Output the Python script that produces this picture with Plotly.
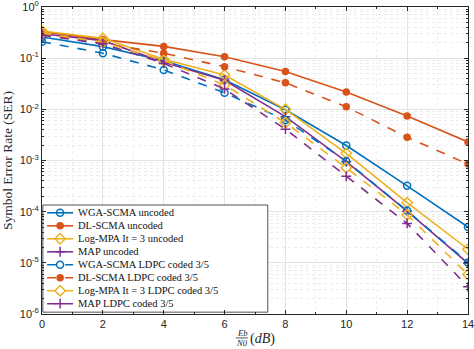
import plotly.graph_objects as go

# Eb/N0 grid in dB
snr_db = [0, 2, 4, 6, 8, 10, 12, 14]

# Symbol error rate curves
wga_uncoded = [0.26, 0.168, 0.089, 0.038, 0.0098, 0.00196, 0.00032, 5.0e-5]
dl_uncoded = [0.33, 0.23, 0.17, 0.107, 0.055, 0.0219, 0.0074, 0.0023]
logmpa_uncoded = [0.34, 0.245, 0.095, 0.047, 0.0100, 0.00138, 0.00015, 1.85e-5]
map_uncoded = [0.30, 0.22, 0.083, 0.037, 0.0072, 0.00095, 0.000102, 9.8e-6]
wga_ldpc = [0.21, 0.125, 0.059, 0.021, 0.0062, 0.00097, 0.000104, 1.02e-5]
dl_ldpc = [0.29, 0.195, 0.125, 0.068, 0.033, 0.0112, 0.00285, 0.00085]
logmpa_ldpc = [0.31, 0.205, 0.09, 0.030, 0.0055, 0.00072, 8.7e-5, 5.9e-6]
map_ldpc = [0.28, 0.19, 0.079, 0.025, 0.0041, 0.00049, 5.9e-5, 3.4e-6]

series_names = [
    "WGA-SCMA uncoded",
    "DL-SCMA uncoded",
    "Log-MPA It = 3 uncoded",
    "MAP uncoded",
    "WGA-SCMA LDPC coded 3/5",
    "DL-SCMA LDPC coded 3/5",
    "Log-MPA It = 3 LDPC coded 3/5",
    "MAP LDPC coded 3/5",
]
series_values = [wga_uncoded, dl_uncoded, logmpa_uncoded, map_uncoded,
                 wga_ldpc, dl_ldpc, logmpa_ldpc, map_ldpc]

x_ticks = [0, 2, 4, 6, 8, 10, 12, 14]
y_tickvals = [1, 1e-1, 1e-2, 1e-3, 1e-4, 1e-5, 1e-6]
y_ticktext = ["10<sup>0</sup>", "10<sup>-1</sup>", "10<sup>-2</sup>", "10<sup>-3</sup>",
              "10<sup>-4</sup>", "10<sup>-5</sup>", "10<sup>-6</sup>"]

colors = ["#0072BD", "#D95319", "#EDB120", "#7E2F8E"]
symbols = ["circle-open", "circle", "diamond-open", "cross-thin-open"]
sizes = [7, 6, 8, 7]
serif = "Liberation Serif, DejaVu Serif, serif"
ink = "#262626"

fig = go.Figure()
for i, (name, vals) in enumerate(zip(series_names, series_values)):
    k = i % 4
    fig.add_trace(go.Scatter(
        x=snr_db, y=vals, name=name, mode="lines+markers", showlegend=False,
        line=dict(color=colors[k], width=1.6, dash="dash" if i >= 4 else "solid"),
        marker=dict(symbol=symbols[k], size=sizes[k], color=colors[k],
                    line=dict(color=colors[k], width=1.5)),
    ))

# Compact legend drawn on an overlay axis spanning the plot area (0..1 both ways)
box_x0, box_x1, box_y0, box_y1 = 0.002, 0.530, 0.006, 0.355
fig.add_trace(go.Scatter(
    x=[box_x0, box_x1, box_x1, box_x0, box_x0],
    y=[box_y0, box_y0, box_y1, box_y1, box_y0],
    xaxis="x2", yaxis="y2", mode="lines", fill="toself", fillcolor="white",
    line=dict(color=ink, width=0.8), showlegend=False, hoverinfo="skip",
))
row_h = (box_y1 - box_y0) / 8.25
for i, name in enumerate(series_names):
    k = i % 4
    yc = box_y1 - row_h * (i + 0.6)
    fig.add_trace(go.Scatter(
        x=[0.012, 0.073], y=[yc, yc], xaxis="x2", yaxis="y2", mode="lines",
        line=dict(color=colors[k], width=1.6, dash="dash" if i >= 4 else "solid"),
        showlegend=False, hoverinfo="skip",
    ))
    fig.add_trace(go.Scatter(
        x=[0.0425], y=[yc], xaxis="x2", yaxis="y2", mode="markers",
        marker=dict(symbol=symbols[k], size=sizes[k], color=colors[k],
                    line=dict(color=colors[k], width=1.5)),
        showlegend=False, hoverinfo="skip",
    ))
    fig.add_annotation(x=0.080, y=yc, xref="x2", yref="y2", xanchor="left",
                       yanchor="middle", text=name, showarrow=False,
                       font=dict(family=serif, size=10.5, color="#111111"))

axis_common = dict(
    showline=True, linecolor=ink, linewidth=0.8, mirror="allticks",
    ticks="inside", ticklen=4, tickcolor=ink,
    showgrid=True, gridcolor="#e3e3e3", gridwidth=0.8,
    tickfont=dict(family="Liberation Sans, Arial, sans-serif", size=11, color=ink),
    zeroline=False, ticklabeloverflow="allow", automargin=False,
)

fig.update_xaxes(
    range=[-0.0001, 14.0001], tickvals=x_ticks,
    minor=dict(dtick=1, showgrid=True, gridcolor="#efefef", griddash="dot",
               ticks="inside", ticklen=2, tickcolor=ink),
    **axis_common,
)
fig.update_yaxes(
    type="log", range=[-6, 0], tickvals=y_tickvals, ticktext=y_ticktext,
    minor=dict(dtick="D1", showgrid=True, gridcolor="#ececec", griddash="dot",
               ticks="inside", ticklen=2, tickcolor=ink),
    title=dict(text="Symbol Error Rate (SER)", standoff=4,
               font=dict(family=serif, size=13.5, color=ink)),
    **axis_common,
)

# x-axis label: Eb over N0 as a fraction, then (dB)
fig.add_annotation(x=0.469, y=-0.062, xref="paper", yref="paper", yanchor="middle",
                   text="<i>Eb</i>", showarrow=False,
                   font=dict(family=serif, size=8.5, color=ink))
fig.add_annotation(x=0.469, y=-0.095, xref="paper", yref="paper", yanchor="middle",
                   text="<i>N0</i>", showarrow=False,
                   font=dict(family=serif, size=8.5, color=ink))
fig.add_shape(type="line", xref="paper", yref="paper",
              x0=0.455, x1=0.483, y0=-0.078, y1=-0.078,
              line=dict(color=ink, width=0.8))
fig.add_annotation(x=0.484, y=-0.083, xref="paper", yref="paper",
                   xanchor="left", yanchor="middle",
                   text="(<i>dB</i>)", showarrow=False,
                   font=dict(family=serif, size=14, color=ink))

fig.update_layout(
    width=474, height=349,
    margin=dict(l=42, r=6, t=7, b=35),
    paper_bgcolor="white", plot_bgcolor="white",
    showlegend=False,
    xaxis2=dict(overlaying="x", range=[0, 1], visible=False, fixedrange=True),
    yaxis2=dict(overlaying="y", range=[0, 1], visible=False, fixedrange=True),
)

fig.write_html("out.html")
